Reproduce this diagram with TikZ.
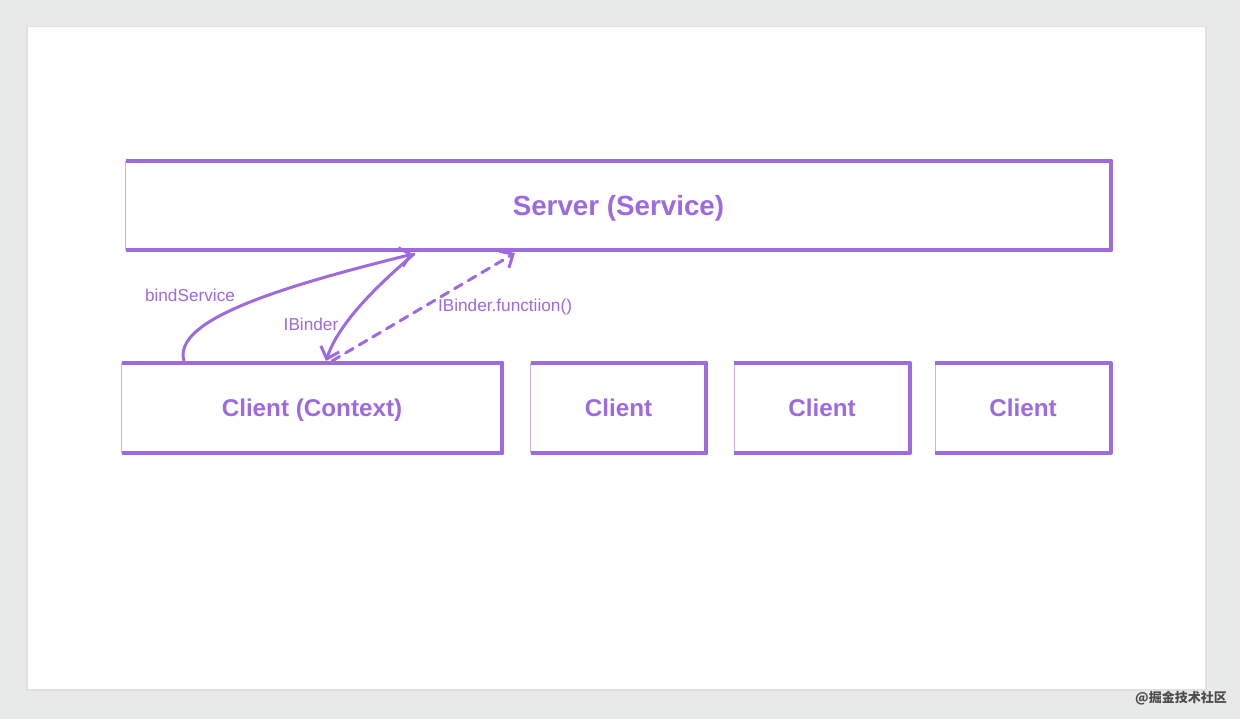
\documentclass[tikz,border=0pt]{standalone}
\usepackage{fontspec}
\setmainfont{Liberation Sans}
\newfontfamily\cjk{Noto Sans CJK SC}
\usepackage{xcolor}
\usetikzlibrary{arrows.meta}
\definecolor{lilac}{HTML}{9D6AE0}
\definecolor{paper}{HTML}{E8E9E9}

\tikzset{
  box/.style={fill=white, text=lilac, inner sep=0pt, text depth=0pt},
  bigbox/.style={box, font=\fontsize{15.8}{19}\selectfont\bfseries, text height=11.3pt},
  smallbox/.style={box, font=\fontsize{13.8}{17}\selectfont\bfseries, text height=9.4pt},
  edge/.style={lilac, line width=2.2pt, line join=round},
  thinedge/.style={lilac!55, line width=0.7pt},
  lbl/.style={text=lilac, font=\fontsize{9.8}{12}\selectfont, inner sep=1pt},
  link/.style={lilac, line width=1.7pt, line cap=round, ->, >={Straight Barb[length=6pt,width=11pt]}}
}

\begin{document}
\begin{tikzpicture}[x=0.02cm, y=-0.02cm]
\useasboundingbox (0,0) rectangle (1240,719);
\fill[paper] (0,0) rectangle (1240,719);
\fill[black!12] (26,26) rectangle (1207,691);
\fill[white] (28,27) rectangle (1205,689);

% server on top
\node[bigbox, minimum width=985*0.02cm, minimum height=89*0.02cm] (server) at (618.5,205.5) {Server (Service)};

% row of clients
\node[smallbox, minimum width=380*0.02cm, minimum height=90*0.02cm] (ctx) at (312,408) {Client (Context)};
\foreach \cx/\nm in {618.5/c1, 822/c2, 1023/c3} {
 \node[smallbox, minimum width=175*0.02cm, minimum height=90*0.02cm] (\nm) at (\cx,408) {Client};
}

% sketchy borders, light on the left
\foreach \nm in {server, ctx, c1, c2, c3} {
 \draw[thinedge] (\nm.south west) -- (\nm.north west);
 \draw[edge] (\nm.north west) -- (\nm.north east) -- (\nm.south east) -- (\nm.south west);
}

% connectors
\coordinate (bindA) at (184,361);
\coordinate (bindB) at (413,254);
\coordinate (retA) at (414,254);
\coordinate (retB) at (326,361);
\coordinate (callA) at (332,361);
\coordinate (callB) at (515,253);
\draw[link] (bindA) .. controls (172,320) and (280,287) .. (bindB);
\draw[link] (retA) .. controls (372,290) and (338,325) .. (retB);
\draw[link, dashed, dash pattern=on 5pt off 4pt] (callA) -- (callB);

\node[lbl] (lbind) at (190,295) {bindService};
\node[lbl] (lret) at (311,324) {IBinder};
\node[lbl] (lcall) at (505,307) {IBinder.functiion()};

% watermark
\node[text=black!70, font=\cjk\fontsize{7.4}{9}\selectfont\bfseries, inner sep=0pt] (mark) at (1181,698) {@掘金技术社区};
\end{tikzpicture}
\end{document}
